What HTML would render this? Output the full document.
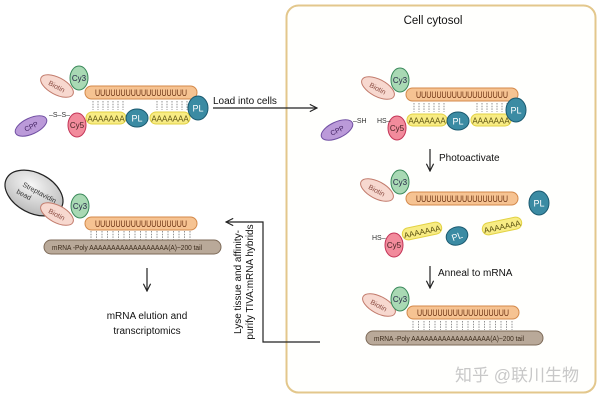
<!DOCTYPE html>
<html><head><meta charset="utf-8"><style>
html,body{margin:0;padding:0;background:#fff;}
svg{display:block;}
text{font-family:"Liberation Sans","Noto Sans CJK SC",sans-serif;}
</style></head><body>
<svg width="600" height="400" viewBox="0 0 600 400" xmlns="http://www.w3.org/2000/svg">
<defs>
<radialGradient id="bead" cx="40%" cy="35%" r="70%"><stop offset="0" stop-color="#f6f6f6"/><stop offset="1" stop-color="#b8b8b8"/></radialGradient>
<marker id="ah" viewBox="0 0 10 10" refX="9" refY="5" markerWidth="9" markerHeight="9" orient="auto" markerUnits="userSpaceOnUse"><path d="M1,1 L9,5 L1,9" fill="none" stroke="#222" stroke-width="1.3"/></marker>
<g id="bio"><ellipse rx="18" ry="8.5" fill="#f7d8cf" stroke="#c27b6c" stroke-width="1"/><text x="0" y="3" font-size="7" text-anchor="middle" fill="#8a4a40">Biotin</text></g>
<g id="cy3"><ellipse rx="9" ry="12" fill="#a9d9b4" stroke="#3c8a5c" stroke-width="1"/><text x="0" y="3" font-size="8" text-anchor="middle" fill="#224">Cy3</text></g>
<g id="cy5"><ellipse rx="9" ry="12" fill="#f28b9c" stroke="#c43658" stroke-width="1"/><text x="0" y="3" font-size="8" text-anchor="middle" fill="#422">Cy5</text></g>
<g id="pl"><ellipse rx="11" ry="9" fill="#3b8ba3" stroke="#1b5a70" stroke-width="1"/><text x="0" y="3.5" font-size="9" text-anchor="middle" fill="#fff">PL</text></g>
<g id="plv"><ellipse rx="10" ry="12" fill="#3b8ba3" stroke="#1b5a70" stroke-width="1"/><text x="0" y="3.5" font-size="9" text-anchor="middle" fill="#fff">PL</text></g>
<g id="abar"><rect x="-20" y="-6" width="40" height="12" rx="6" fill="#f8ec84" stroke="#e2d243" stroke-width="1"/><text x="0" y="3.5" font-size="8" text-anchor="middle" fill="#5a5010">AAAAAAA</text></g>
<g id="ubar"><rect x="0" y="0" width="112" height="13" rx="6.5" fill="#f6c392" stroke="#d4894a" stroke-width="1"/><text x="56" y="10" font-size="9.5" text-anchor="middle" fill="#6a3010" textLength="92" lengthAdjust="spacingAndGlyphs">UUUUUUUUUUUUUUUUUU</text></g>
<g id="mrna"><rect x="0" y="0" width="177" height="14" rx="7" fill="#b9a999" stroke="#7d6a58" stroke-width="1"/><text x="8" y="10" font-size="7.5" fill="#3a2a1a" textLength="150" lengthAdjust="spacingAndGlyphs">mRNA -Poly AAAAAAAAAAAAAAAAAA(A)~200 tail</text></g>
<g id="dash7" stroke="#777" stroke-width="0.8" stroke-dasharray="1.5,1.2"><path d="M0,0v9M5,0v9M10,0v9M15,0v9M20,0v9M25,0v9M30,0v9"/></g>
<g id="dash20" stroke="#777" stroke-width="0.8" stroke-dasharray="1.5,1.2"><path d="M0,0v9M5.5,0v9M11,0v9M16.5,0v9M22,0v9M27.5,0v9M33,0v9M38.5,0v9M44,0v9M49.5,0v9M55,0v9M60.5,0v9M66,0v9M71.5,0v9M77,0v9M82.5,0v9M88,0v9M93.5,0v9M99,0v9"/></g>
</defs>

<rect x="286.5" y="5.5" width="309" height="387" rx="12" fill="#fffffd" stroke="#e3c78c" stroke-width="2"/>
<text x="433" y="24" font-size="11.5" text-anchor="middle" fill="#111">Cell cytosol</text>

<g>
<use href="#ubar" x="85" y="86"/>
<use href="#dash7" x="93" y="101"/><use href="#dash7" x="157" y="101"/>
<use href="#abar" x="106" y="118"/><use href="#abar" x="170" y="118"/>
<use href="#pl" x="137" y="118"/>
<use href="#plv" x="198" y="108"/>
<use href="#bio" transform="translate(57,86) rotate(28)"/>
<use href="#cy3" x="79" y="78"/>
<use href="#cy5" x="77" y="125"/>
<g transform="translate(31,126) rotate(-25)"><ellipse rx="17" ry="8" fill="#bb9ad9" stroke="#7150a3"/><text y="3" font-size="7" text-anchor="middle" fill="#402060">CPP</text></g>
<text x="49" y="117" font-size="7" fill="#333">–S–S–</text>
</g>

<text x="213" y="104" font-size="10" fill="#111">Load into cells</text>
<line x1="213" y1="108" x2="317" y2="108" stroke="#222" stroke-width="1.2" marker-end="url(#ah)"/>

<g>
<use href="#ubar" x="406" y="88"/>
<use href="#dash7" x="414" y="103"/><use href="#dash7" x="477" y="103"/>
<use href="#abar" x="427" y="120"/><use href="#abar" x="491" y="120"/>
<use href="#pl" x="458" y="121"/>
<use href="#plv" x="516" y="110"/>
<use href="#bio" transform="translate(378,88) rotate(28)"/>
<use href="#cy3" x="400" y="80"/>
<use href="#cy5" x="397" y="128"/>
<g transform="translate(337,130) rotate(-25)"><ellipse rx="17" ry="8" fill="#bb9ad9" stroke="#7150a3"/><text y="3" font-size="7" text-anchor="middle" fill="#402060">CPP</text></g>
<text x="353" y="123" font-size="7" fill="#333">–SH</text>
<text x="377" y="123" font-size="7" fill="#333">HS–</text>
</g>

<line x1="430" y1="149" x2="430" y2="171" stroke="#222" stroke-width="1.2" marker-end="url(#ah)"/>
<text x="439" y="161" font-size="10" fill="#111">Photoactivate</text>

<g>
<use href="#ubar" x="406" y="192"/>
<use href="#bio" transform="translate(377,190) rotate(28)"/>
<use href="#cy3" x="400" y="182"/>
<use href="#plv" x="539" y="203"/>
<use href="#abar" transform="translate(422,231) rotate(-12)"/>
<use href="#pl" transform="translate(457,236) rotate(-20)"/>
<use href="#abar" transform="translate(502,226) rotate(-12)"/>
<use href="#cy5" x="394" y="245"/>
<text x="372" y="240" font-size="7" fill="#333">HS–</text>
</g>

<line x1="430" y1="266" x2="430" y2="288" stroke="#222" stroke-width="1.2" marker-end="url(#ah)"/>
<text x="438" y="276" font-size="10" fill="#111">Anneal to mRNA</text>

<g>
<use href="#ubar" x="407" y="306"/>
<use href="#dash20" x="413" y="321"/>
<use href="#mrna" x="366" y="331"/>
<use href="#bio" transform="translate(379,305) rotate(28)"/>
<use href="#cy3" x="400" y="299"/>
</g>

<g>
<ellipse cx="34" cy="193" rx="31" ry="20" transform="rotate(28 34 193)" fill="url(#bead)" stroke="#222" stroke-width="1.2"/>
<text transform="translate(22,186) rotate(28)" font-size="7" fill="#333">Streptavidin</text>
<text transform="translate(16,193) rotate(28)" font-size="7" fill="#333">bead</text>
<use href="#ubar" x="85" y="217"/>
<use href="#dash20" x="91" y="231"/>
<use href="#mrna" x="44" y="240"/>
<use href="#bio" transform="translate(57,214) rotate(28)"/>
<use href="#cy3" x="80" y="206"/>
</g>

<line x1="147" y1="268" x2="147" y2="291" stroke="#222" stroke-width="1.2" marker-end="url(#ah)"/>
<text x="147" y="319" font-size="10" text-anchor="middle" fill="#111">mRNA elution and</text>
<text x="147" y="334" font-size="10" text-anchor="middle" fill="#111">transcriptomics</text>

<path d="M320,342 H263 V222 H226" fill="none" stroke="#222" stroke-width="1.2" marker-end="url(#ah)"/>
<text transform="translate(241,282) rotate(-90)" font-size="10" text-anchor="middle" fill="#111">Lyse tissue and affinity-</text>
<text transform="translate(253,282) rotate(-90)" font-size="10" text-anchor="middle" fill="#111">purify TIVA:mRNA hybrids</text>

<text x="455" y="381" font-size="17" fill="#c8c8c8">知乎 @联川生物</text>
</svg>
</body></html>
